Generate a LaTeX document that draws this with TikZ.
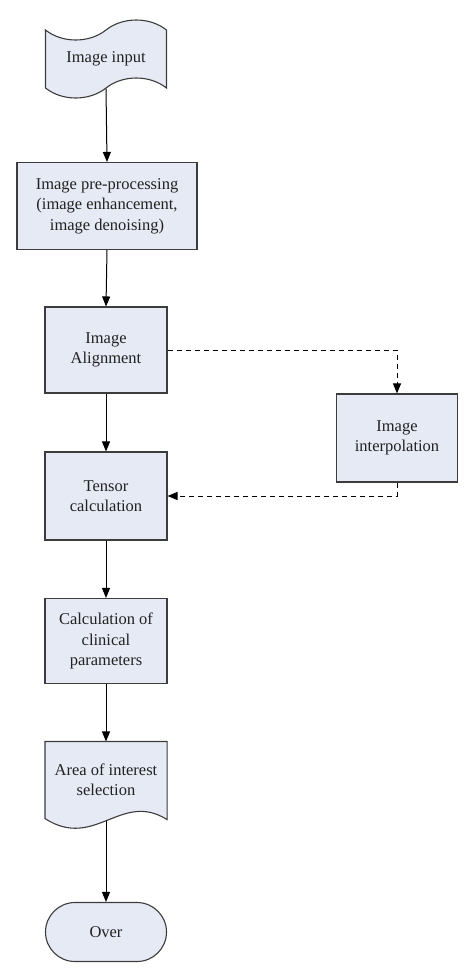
\documentclass[tikz,border=0pt]{standalone}
\usepackage{fontspec}
\setmainfont{Liberation Serif}
\usetikzlibrary{shapes.symbols,shapes.misc,arrows.meta,calc,backgrounds}
\definecolor{boxfill}{HTML}{E6EAF4}
\definecolor{boxline}{HTML}{3C3C3C}
\definecolor{txt}{HTML}{222222}
\tikzset{
  stepbox/.style={draw=boxline,fill=boxfill,line width=1.1pt,text=txt,align=center,
    inner sep=0pt,minimum width=122pt,minimum height=86pt,
    font=\fontsize{16.5}{20.5}\selectfont},
  flow/.style={draw=black,line width=1pt,-{Triangle[length=10pt,width=8pt]}},
  back/.style={flow,dash pattern=on 5pt off 4pt}
}
\begin{document}
\begin{tikzpicture}[x=1pt,y=-1pt]
        \useasboundingbox (0,0) rectangle (474,978);
        % input and processing chain
        \node[stepbox,tape,tape bend top=in and out,tape bend bottom=in and out,
          tape bend height=20pt,minimum height=78pt,minimum width=121pt] (input) at (106,59) {Image input};
        \node[stepbox,minimum width=180pt,minimum height=87pt] (pre) at (107,206) {Image pre-processing\\(image enhancement,\\image denoising)};
        \node[stepbox] (align) at (106,350) {Image\\Alignment};
        \node[stepbox,minimum width=121pt,minimum height=88pt] (interp) at (397,438) {Image\\interpolation};
        \node[stepbox,minimum height=88pt] (tensor) at (106,496) {Tensor\\calculation};
        \node[stepbox,minimum height=85pt] (clinic) at (106,641) {Calculation of\\clinical\\parameters};
        % document shape, outline drawn behind
        \node[stepbox,draw=none,fill=none,minimum width=121pt,minimum height=76pt] (area) at (106,780) {Area of interest\\selection};
        \node[stepbox,rounded rectangle,minimum width=121pt,minimum height=59pt] (over) at (106,932) {Over};
        \begin{scope}[on background layer]
        \draw[draw=boxline,fill=boxfill,line width=1.1pt] (area.north west) -- (area.north east) -- ($(area.south east)+(0,1)$)
          .. controls ($(area.south east)+(-46,-28)$) and ($(area.south west)+(50,32)$) .. (area.south west) -- cycle;
        \end{scope}
        % arrows
        \draw[flow] (input.south) -- (pre.north);
        \draw[flow] (pre.south) -- (align.north);
        \draw[flow] (align.south) -- (tensor.north);
        \draw[flow] (tensor.south) -- (clinic.north);
        \draw[flow] (clinic.south) -- (area.north);
        \draw[flow] ($(area.south)+(0,2)$) -- (over.north);
        \draw[back] (align.east) -| (interp.north);
        \draw[back] (interp.south) |- (tensor.east);
      \end{tikzpicture}
\end{document}
